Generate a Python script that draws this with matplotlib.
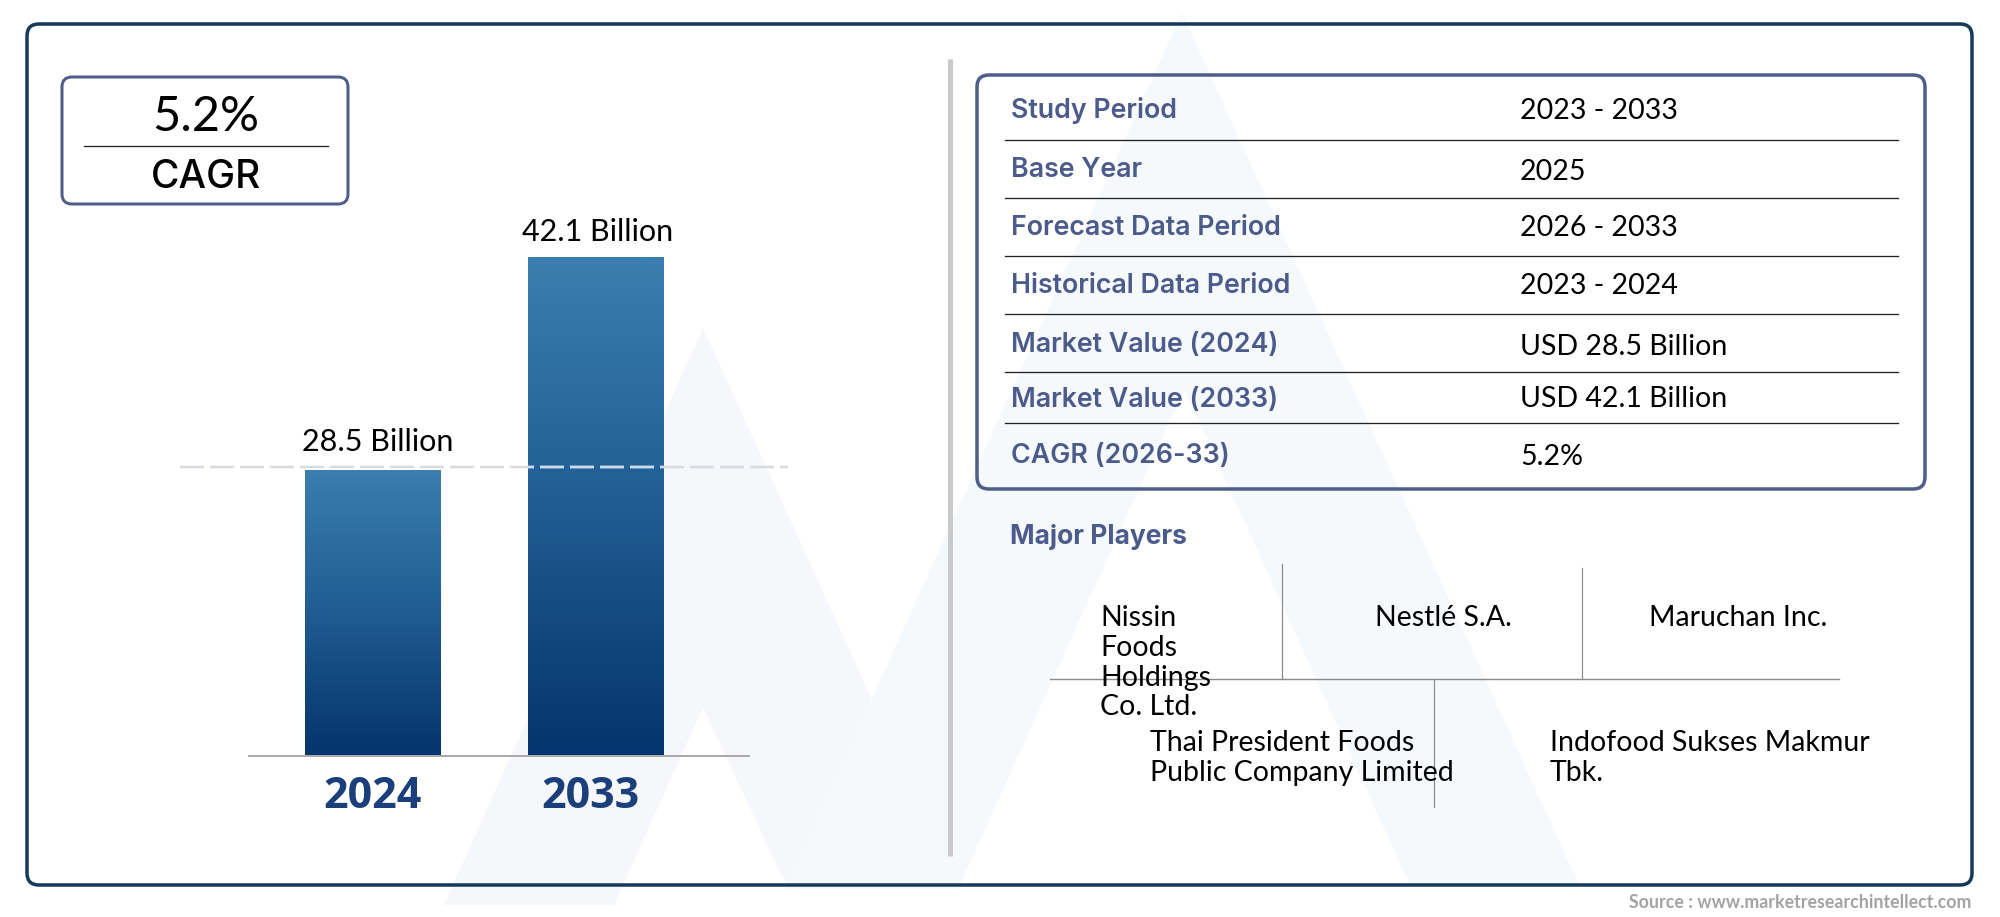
# market size infographic: two bars on the left, summary table and players on the right
import matplotlib
matplotlib.use("Agg")
from matplotlib import pyplot as plt
from matplotlib.colors import LinearSegmentedColormap
from matplotlib.patches import FancyBboxPatch, Polygon
import numpy as np

W, H = 2000, 917
DPI = 100
PX = 72 / DPI  # one pixel in points

years = ["2024", "2033"]
market_value = [28.5, 42.1]
value_labels = ["28.5 Billion", "42.1 Billion"]
dash_level = 28.65  # dashed guide sits just above the first bar
cagr_text = "5.2%"

table_labels = ["Study Period", "Base Year", "Forecast Data Period", "Historical Data Period",
                "Market Value (2024)", "Market Value (2033)", "CAGR (2026-33)"]
table_values = ["2023 - 2033", "2025", "2026 - 2033", "2023 - 2024",
                "USD 28.5 Billion", "USD 42.1 Billion", "5.2%"]
players = ["Nissin\nFoods\nHoldings\nCo. Ltd.", "Nestlé S.A.", "Maruchan Inc.",
           "Thai President Foods\nPublic Company Limited", "Indofood Sukses Makmur\nTbk."]

VALUE_FONT = "Lato"
HEAD_FONT = "Inter"
NAVY = "#163a57"
SLATE = "#4f5d8a"
LABEL = "#4a5b8c"

plt.rcParams["lines.scale_dashes"] = False
plt.rcParams["font.family"] = VALUE_FONT

fig = plt.figure(figsize=(W / DPI, H / DPI), dpi=DPI, facecolor="white")

# page layer in pixel coordinates
page = fig.add_axes([0, 0, 1, 1], zorder=1)
page.set_xlim(0, W)
page.set_ylim(H, 0)
page.axis("off")

# pale logo behind everything
page.add_patch(Polygon([(703, 328), (444, 905), (614, 905), (703, 707), (788, 889), (958, 889)],
                       closed=True, fc="#f6f7fa", ec="none", zorder=1))
page.add_patch(Polygon([(1182, 13), (786, 889), (958, 889), (1184, 389), (1410, 885), (1579, 885)],
                       closed=True, fc="#f6f9fc", ec="none", zorder=1.1))

# outer frame and boxes
def round_box(x0, y0, x1, y1, color, lw, rad):
    page.add_patch(FancyBboxPatch((x0 + rad, y0 + rad), x1 - x0 - 2 * rad, y1 - y0 - 2 * rad,
                                  boxstyle=f"round,pad={rad},rounding_size={rad}",
                                  fc="none", ec=color, lw=lw * PX, zorder=3))

round_box(27, 24, 1972, 885, NAVY, 3.5, 12)
round_box(62, 77, 348, 204, SLATE, 3, 10)
round_box(977, 75, 1925, 489, SLATE, 3.5, 12)
page.plot([950, 950], [59, 856], color="#c9c9c9", lw=5 * PX, solid_capstyle="butt", zorder=2)

# CAGR badge
page.plot([84, 328], [146, 146], color="#222222", lw=1.3 * PX, zorder=3)
page.text(206, 117, cagr_text, ha="center", va="center", fontsize=35, color="black", zorder=4)
page.text(206, 177, "CAGR", ha="center", va="center", fontsize=28, family=HEAD_FONT,
          fontweight="medium", color="black", zorder=4)

# bar axes, baseline at 756 px and top of the tallest bar at 257 px
bar_left, bar_right, bar_top, bar_bottom = 180, 788, 257, 756
ax = fig.add_axes([bar_left / W, 1 - bar_bottom / H, (bar_right - bar_left) / W, (bar_bottom - bar_top) / H],
                  zorder=2)
ax.patch.set_alpha(0)
for side in ax.spines.values():
    side.set_visible(False)
ax.set_xticks([])
ax.set_yticks([])
xpos = np.arange(len(years))
fade = LinearSegmentedColormap.from_list("bar_fade", [(0, "#3a7fad"), (0.5, "#205c92"), (0.8, "#0f4479"), (1, "#04356e")])
bars = ax.bar(xpos, market_value, width=0.609, color="none")
DASH = (0, (24 * PX, 6 * PX))
for rect in bars:
    grad = ax.imshow(np.linspace(0, 1, 256).reshape(-1, 1), cmap=fade, aspect="auto",
                     extent=(rect.get_x(), rect.get_x() + rect.get_width(), 10.2, rect.get_height()),
                     zorder=2)
    grad.set_clip_path(rect)
    # the dashes look paler blue where they cross a bar
    over = ax.hlines(dash_level, -0.867, 1.865, color="#c4dcef", lw=2.5 * PX, linestyles=DASH, zorder=5)
    over.set_clip_path(rect)
ax.set_xlim(-0.867, 1.865)
ax.set_ylim(10.2, 42.1)
ax.hlines(10.2, -0.562, 1.694, color="#a9a9a9", lw=2 * PX, zorder=3, clip_on=False)
ax.hlines(dash_level, -0.867, 1.865, color="#d7dae0", lw=2.5 * PX, linestyles=DASH,
          zorder=4, clip_on=False)
for x, val, label, dx, dy in zip(xpos, market_value, value_labels, [5, 2], [28, 25]):
    ax.annotate(label, (x, val), xytext=(dx * PX, dy * PX), textcoords="offset points",
                ha="center", va="center", fontsize=22, color="black", annotation_clip=False)
for x, year, dx in zip(xpos, years, [0, -5]):
    ax.annotate(year, (x, 10.2), xytext=(dx * PX, -41 * PX), textcoords="offset points", ha="center", va="center",
                fontsize=31, family="Open Sans", fontweight="bold", color="#1a3f7a", annotation_clip=False)

# summary table
row_lines = [140, 198, 256, 314, 372, 423]
label_y = [110, 170, 228, 286, 345, 400, 456]
value_y = [111, 172, 228, 286, 347, 399, 457]
for y in row_lines:
    page.plot([1005, 1898], [y, y], color="#222222", lw=1.3 * PX, zorder=3)
for lab, val, ly, vy in zip(table_labels, table_values, label_y, value_y):
    page.text(1011, ly, lab, ha="left", va="center", fontsize=19.3, family=HEAD_FONT, fontweight="semibold",
              color=LABEL, zorder=4)
    page.text(1520, vy, val, ha="left", va="center", fontsize=20.5, color="black", zorder=4)

# players block
page.text(1010, 537, "Major Players", ha="left", va="center", fontsize=19, family=HEAD_FONT, fontweight="bold",
          color=LABEL, zorder=4)
grey = "#8a8a8a"
page.plot([1050, 1839], [679, 679], color=grey, lw=1.4 * PX, zorder=3)
page.plot([1282, 1282], [564, 679], color=grey, lw=1.2 * PX, zorder=3)
page.plot([1582, 1582], [568, 679], color=grey, lw=1.2 * PX, zorder=3)
page.plot([1434, 1434], [679, 807], color=grey, lw=1.2 * PX, zorder=3)
player_xy = [(1100, 605), (1375, 605), (1649, 605), (1150, 730), (1550, 730)]
for name, (x, y) in zip(players, player_xy):
    page.text(x, y, name, ha="left", va="top", fontsize=20.5, linespacing=1.18, color="black", zorder=4)

page.text(1971, 902, "Source : www.marketresearchintellect.com", ha="right", va="center", fontsize=12.8,
          fontweight="bold", color="#a3a3a3", zorder=4)

fig.savefig("out.png", dpi=DPI)
